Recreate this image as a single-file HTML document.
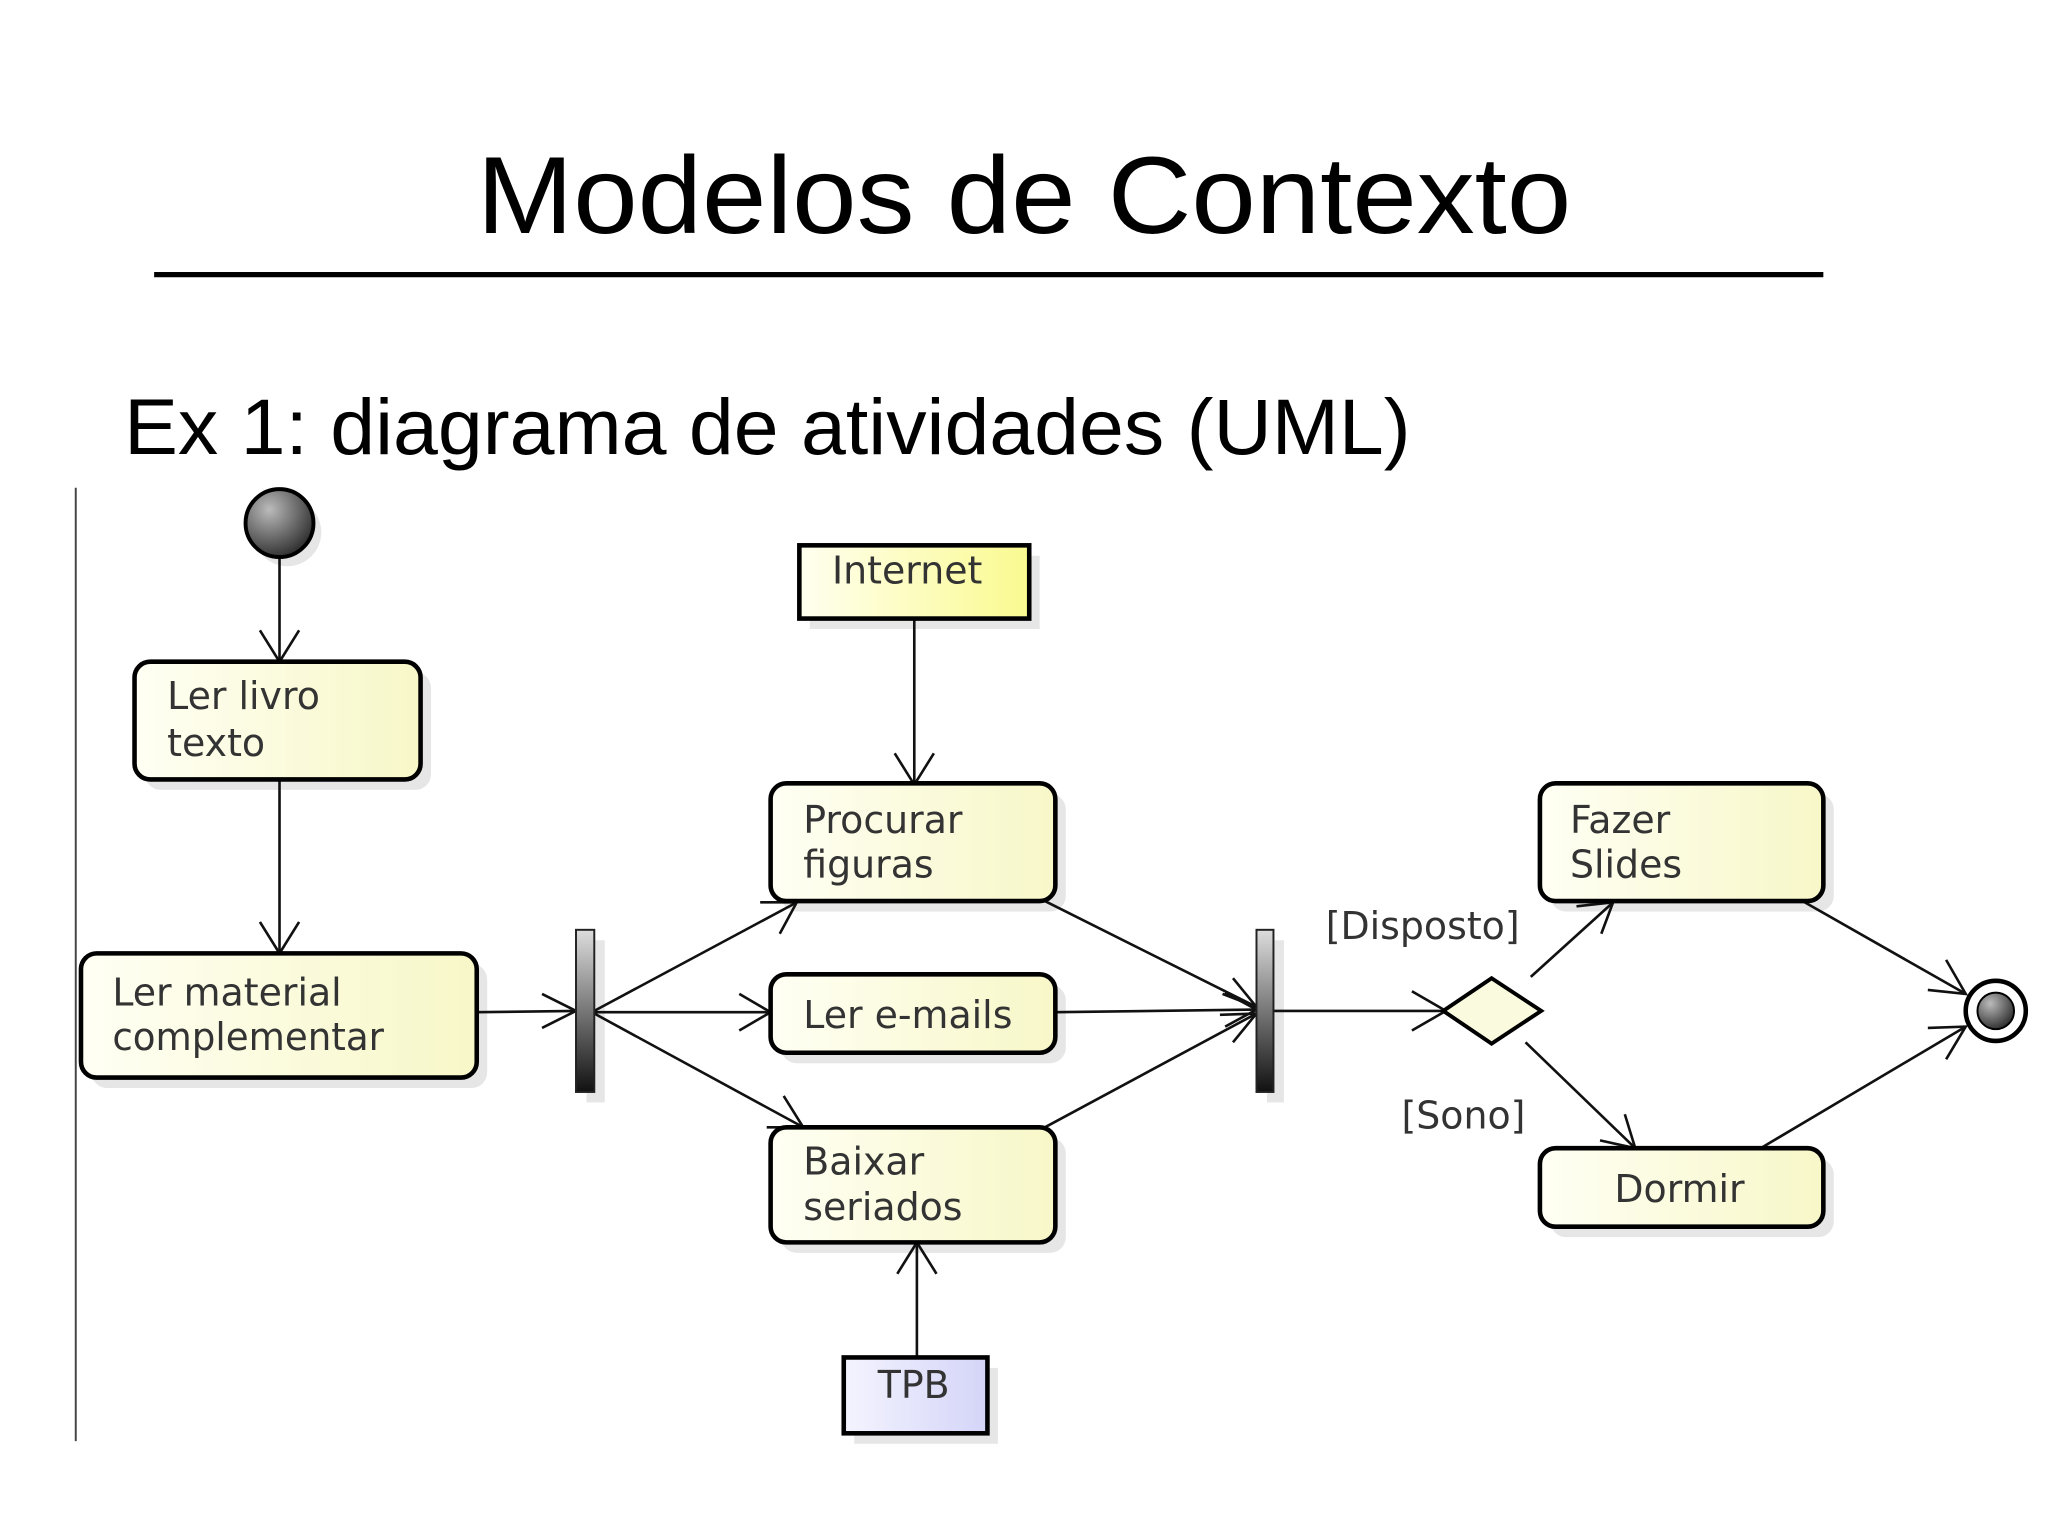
<!DOCTYPE html>
<html><head><meta charset="utf-8"><style>
html,body{margin:0;padding:0;background:#fff;}
svg{display:block;}
text{font-family:"DejaVu Sans","Liberation Sans",sans-serif;}
</style></head><body>
<svg width="2048" height="1534" viewBox="0 0 1568 1173" preserveAspectRatio="none" xmlns="http://www.w3.org/2000/svg">
<defs>
<linearGradient id="y" x1="0" y1="0" x2="1" y2="0"><stop offset="0" stop-color="#fffff4"/><stop offset="1" stop-color="#f7f7c8"/></linearGradient>
<linearGradient id="yi" x1="0" y1="0" x2="1" y2="0"><stop offset="0" stop-color="#fffff0"/><stop offset="1" stop-color="#fafa90"/></linearGradient>
<linearGradient id="bl" x1="0" y1="0" x2="1" y2="0"><stop offset="0" stop-color="#f4f4ff"/><stop offset="1" stop-color="#d4d4f8"/></linearGradient>
<radialGradient id="g" cx="0.35" cy="0.3" r="0.8"><stop offset="0" stop-color="#bbb"/><stop offset="1" stop-color="#222"/></radialGradient>
<linearGradient id="bar" x1="0" y1="0" x2="0" y2="1"><stop offset="0" stop-color="#ddd"/><stop offset="1" stop-color="#111"/></linearGradient>
</defs>
<text x="784" y="178" font-family="Liberation Sans" font-size="84" text-anchor="middle" textLength="838" lengthAdjust="spacingAndGlyphs" style="font-family:'Liberation Sans',sans-serif">Modelos de Contexto</text>
<rect x="118" y="208" width="1278" height="4" fill="#000"/>
<text x="95" y="347" font-size="60" textLength="985" lengthAdjust="spacingAndGlyphs" style="font-family:'Liberation Sans',sans-serif">Ex 1: diagrama de atividades (UML)</text>
<line x1="58" y1="373" x2="58" y2="1102" stroke="#444" stroke-width="1.5"/>

<g fill="#e6e6e6">
<rect x="111" y="514" width="219" height="90" rx="12"/>
<rect x="70" y="737" width="303" height="95" rx="12"/>
<rect x="598" y="607" width="218" height="90" rx="12"/>
<rect x="598" y="753" width="218" height="60" rx="12"/>
<rect x="598" y="870" width="218" height="88" rx="12"/>
<rect x="1187" y="607" width="217" height="90" rx="12"/>
<rect x="1187" y="886" width="217" height="60" rx="12"/>
<rect x="620" y="425" width="176" height="56"/>
<rect x="654" y="1046" width="110" height="58"/>
<rect x="449" y="719" width="14" height="124"/>
<rect x="970" y="719" width="13" height="124"/>
<circle cx="220" cy="407" r="26"/>
</g>

<g stroke="#111" stroke-width="2" fill="none">
<line x1="214" y1="426" x2="214" y2="506"/><polyline points="199,482 214,506 229,482"/>
<line x1="214" y1="596" x2="214" y2="729"/><polyline points="199,705 214,729 229,705"/>
<line x1="700" y1="473" x2="700" y2="600"/><polyline points="685,576 700,600 715,576"/>
<line x1="702" y1="1038" x2="702" y2="950"/><polyline points="687,974 702,950 717,974"/>
<line x1="365" y1="774" x2="441" y2="773"/><polyline points="415,760 441,773 415,786"/>
<line x1="455" y1="773" x2="610" y2="690"/><polyline points="582,690 610,690 597,714"/>
<line x1="455" y1="774" x2="590" y2="774"/><polyline points="566,760 590,774 566,788"/>
<line x1="455" y1="775" x2="615" y2="862"/><polyline points="600,838 615,862 587,862"/>
<line x1="800" y1="689" x2="962" y2="770"/><polyline points="936,760 962,770 944,748"/>
<line x1="808" y1="774" x2="962" y2="772"/><polyline points="938,759 962,772 938,785"/>
<line x1="800" y1="862" x2="962" y2="775"/><polyline points="944,797 962,775 934,776"/>
<line x1="975" y1="773" x2="1107" y2="773"/><polyline points="1081,758 1107,773 1081,788"/>
<line x1="1172" y1="747" x2="1235" y2="690"/><polyline points="1207,693 1235,690 1226,714"/>
<line x1="1168" y1="797" x2="1252" y2="878"/><polyline points="1244,852 1252,878 1225,872"/>
<line x1="1380" y1="689" x2="1505" y2="760"/><polyline points="1490,734 1505,760 1476,757"/>
<line x1="1348" y1="878" x2="1505" y2="785"/><polyline points="1476,786 1505,785 1490,810"/>
</g>

<g stroke="#000" stroke-width="3.5" fill="url(#y)">
<rect x="103" y="506" width="219" height="90" rx="12"/>
<rect x="62" y="729" width="303" height="95" rx="12"/>
<rect x="590" y="599" width="218" height="90" rx="12"/>
<rect x="590" y="745" width="218" height="60" rx="12"/>
<rect x="590" y="862" width="218" height="88" rx="12"/>
<rect x="1179" y="599" width="217" height="90" rx="12"/>
<rect x="1179" y="878" width="217" height="60" rx="12"/>
<rect x="612" y="417" width="176" height="56" rx="0" fill="url(#yi)"/>
<rect x="646" y="1038" width="110" height="58" rx="0" fill="url(#bl)"/>
<polygon points="1105,773 1142,748 1180,773 1142,798" fill="#fafade" stroke-width="3"/>
</g>
<rect x="441" y="711" width="14" height="124" fill="url(#bar)" stroke="#222" stroke-width="1.5"/>
<rect x="962" y="711" width="13" height="124" fill="url(#bar)" stroke="#222" stroke-width="1.5"/>
<circle cx="214" cy="400" r="26" fill="url(#g)" stroke="#000" stroke-width="3"/>
<circle cx="1528" cy="773" r="23" fill="#fff" stroke="#000" stroke-width="3.5"/>
<circle cx="1528" cy="773" r="14" fill="url(#g)" stroke="#000" stroke-width="1.5"/>

<g font-size="29" fill="#333">
<text x="128" y="542">Ler livro</text><text x="128" y="578">texto</text>
<text x="86" y="769">Ler material</text><text x="86" y="803" textLength="208" lengthAdjust="spacingAndGlyphs">complementar</text>
<text x="615" y="637">Procurar</text><text x="615" y="671">figuras</text>
<text x="615" y="786">Ler e-mails</text>
<text x="615" y="898">Baixar</text><text x="615" y="933">seriados</text>
<text x="1202" y="637">Fazer</text><text x="1202" y="671">Slides</text>
<text x="1236" y="919">Dormir</text>
<text x="637" y="446">Internet</text>
<text x="672" y="1069">TPB</text>
<text x="1015" y="718">[Disposto]</text>
<text x="1073" y="863">[Sono]</text>
</g>
</svg>
</body></html>
